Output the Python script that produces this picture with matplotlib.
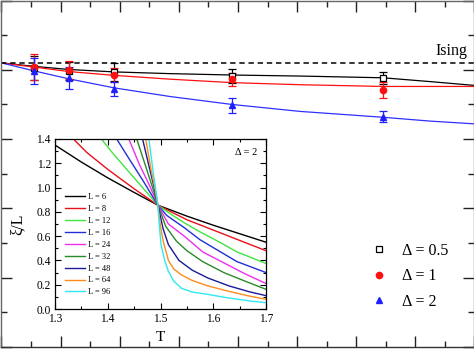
import numpy as np
import matplotlib
matplotlib.use('Agg')
import matplotlib.pyplot as plt
from matplotlib.ticker import MultipleLocator
from matplotlib.lines import Line2D

plt.rcParams['font.family'] = ['Liberation Serif', 'DejaVu Serif']
plt.rcParams['mathtext.fontset'] = 'stix'

# main panel: crossing points vs 1/L for three anisotropies
x_pts = [0.0110, 0.0227, 0.0382, 0.0779, 0.1291]
y_d05 = [0.9005, 0.8997, 0.8994, 0.8982, 0.8977]
e_d05 = [0.0035, 0.0026, 0.0026, 0.0019, 0.0017]
y_d1 = [0.9008, 0.8999, 0.8985, 0.8973, 0.8941]
e_d1 = [0.0038, 0.0026, 0.0020, 0.0019, 0.0023]
y_d2 = [0.8997, 0.8977, 0.8945, 0.8898, 0.8865]
e_d2 = [0.0038, 0.0032, 0.0021, 0.0022, 0.0017]

# fitted curves
x_fit = [0.0, 0.0110, 0.0228, 0.0381, 0.0570, 0.0780, 0.1010, 0.1291, 0.1450, 0.1600]
fit_d05 = [0.9020, 0.9010, 0.9001, 0.8994, 0.8989, 0.8985, 0.8982, 0.8977, 0.8966, 0.8955]
fit_d1 = [0.9020, 0.9008, 0.8995, 0.8984, 0.8973, 0.8963, 0.8957, 0.8952, 0.8952, 0.8952]
fit_d2 = [0.9020, 0.8997, 0.8974, 0.8948, 0.8923, 0.8900, 0.8880, 0.8863, 0.8852, 0.8844]
ising = 0.902

# inset: xi/L vs T for Delta = 2
L_sizes = [6, 8, 12, 16, 24, 32, 48, 64, 96]
L_colors = ['black', '#e8101a', '#3ee63e', '#2030d8', '#ee30ee', '#2a8a2a', '#1a1a9a', '#ff8c1a', '#30e8ee']
T_curves = [
    [1.30, 1.35, 1.40, 1.45, 1.495, 1.55, 1.60, 1.65, 1.70],
    [1.335, 1.36, 1.40, 1.45, 1.495, 1.55, 1.60, 1.65, 1.70],
    [1.388, 1.41, 1.43, 1.46, 1.495, 1.52, 1.545, 1.575, 1.61, 1.645, 1.70],
    [1.417, 1.44, 1.465, 1.495, 1.512, 1.545, 1.575, 1.61, 1.645, 1.70],
    [1.440, 1.46, 1.48, 1.495, 1.515, 1.545, 1.58, 1.62, 1.66, 1.70],
    [1.455, 1.47, 1.485, 1.495, 1.51, 1.53, 1.55, 1.58, 1.62, 1.66, 1.70],
    [1.466, 1.478, 1.488, 1.495, 1.505, 1.515, 1.535, 1.56, 1.59, 1.63, 1.67, 1.70],
    [1.472, 1.482, 1.490, 1.495, 1.500, 1.505, 1.515, 1.525, 1.54, 1.56, 1.59, 1.63, 1.67, 1.70],
    [1.478, 1.486, 1.492, 1.495, 1.498, 1.501, 1.508, 1.515, 1.525, 1.54, 1.56, 1.59, 1.63, 1.67, 1.70],
]
xi_curves = [
    [1.35, 1.21, 1.08, 0.96, 0.855, 0.765, 0.69, 0.62, 0.55],
    [1.40, 1.29, 1.15, 0.99, 0.855, 0.735, 0.65, 0.565, 0.48],
    [1.40, 1.28, 1.18, 1.03, 0.855, 0.78, 0.71, 0.635, 0.555, 0.47, 0.375],
    [1.40, 1.24, 1.07, 0.855, 0.77, 0.67, 0.57, 0.48, 0.39, 0.30],
    [1.40, 1.19, 1.01, 0.855, 0.70, 0.60, 0.47, 0.38, 0.29, 0.21],
    [1.40, 1.20, 1.00, 0.855, 0.68, 0.56, 0.48, 0.39, 0.30, 0.23, 0.162],
    [1.40, 1.18, 1.00, 0.855, 0.66, 0.53, 0.40, 0.32, 0.255, 0.19, 0.14, 0.11],
    [1.40, 1.15, 0.98, 0.855, 0.68, 0.56, 0.40, 0.33, 0.28, 0.235, 0.19, 0.145, 0.105, 0.08],
    [1.40, 1.13, 0.95, 0.855, 0.68, 0.53, 0.40, 0.31, 0.23, 0.17, 0.14, 0.12, 0.09, 0.066, 0.052],
]

fig = plt.figure(figsize=(4.74, 3.49), dpi=100)
ax = fig.add_axes([0.003, 0.0057, 0.998, 0.9928])

ax.plot(x_fit, fit_d05, color='black', lw=0.9)
ax.plot(x_fit, fit_d1, color='#ff1010', lw=0.9)
ax.plot(x_fit, fit_d2, color='#3030ff', lw=0.9)
ax.axhline(ising, color='black', lw=1.1, ls=(0, (3.5, 2.5)))
ax.text(0.1575, ising + 0.0012, 'Ising', fontsize=11.5, ha='right', va='bottom')

ax.errorbar(x_pts, y_d05, yerr=e_d05, fmt='s', mfc='white', mec='black', color='black',
            ms=5, mew=0.9, capsize=3, elinewidth=0.9, capthick=0.9)
ax.errorbar(x_pts, y_d1, yerr=e_d1, fmt='o', color='#ff1010', ms=4.5,
            capsize=3, elinewidth=0.9, capthick=0.9)
ax.errorbar(x_pts, y_d2, yerr=e_d2, fmt='^', color='#2020ff', ms=5,
            capsize=3, elinewidth=0.9, capthick=0.9)

handles = [Line2D([], [], ls='none', marker='s', mfc='white', mec='black', ms=5, mew=0.9),
           Line2D([], [], ls='none', marker='o', color='#ff1010', ms=4.5),
           Line2D([], [], ls='none', marker='^', color='#2020ff', ms=5)]
ax.legend(handles, ['Δ = 0.5', 'Δ = 1', 'Δ = 2'], loc='upper left', bbox_to_anchor=(0.782, 0.30),
          frameon=False, fontsize=11.5, handlelength=1.0, handletextpad=0.95,
          labelspacing=0.58, borderpad=0, borderaxespad=0)

ax.set_xlim(0, 0.16)
ax.set_ylim(0.82, 0.92)
ax.xaxis.set_major_locator(MultipleLocator(0.02))
ax.xaxis.set_minor_locator(MultipleLocator(0.01))
ax.yaxis.set_major_locator(MultipleLocator(0.02))
ax.yaxis.set_minor_locator(MultipleLocator(0.01))
ax.tick_params(which='both', direction='in', top=True, right=True,
               labelbottom=False, labelleft=False, width=1.0, color='#222222')
ax.tick_params(which='major', length=8)
ax.tick_params(which='minor', length=4.5)
for s in ax.spines.values():
    s.set_color('#666666')
    s.set_linewidth(1.0)
ax.spines['bottom'].set_color('#333333')

# inset
ins = fig.add_axes([55 / 474, 40 / 349, 211 / 474, 170 / 349])
for L, c, T, xi in zip(L_sizes, L_colors, T_curves, xi_curves):
    ins.plot(T, xi, color=c, lw=1.0, label='L = %d' % L)
ins.set_xlim(1.3, 1.7)
ins.set_ylim(0.0, 1.4)
ins.xaxis.set_major_locator(MultipleLocator(0.1))
ins.xaxis.set_minor_locator(MultipleLocator(0.05))
ins.yaxis.set_major_locator(MultipleLocator(0.2))
ins.yaxis.set_minor_locator(MultipleLocator(0.1))
ins.tick_params(which='both', direction='in', top=True, right=True, labelsize=8.3, pad=3, width=0.8)
ins.tick_params(which='major', length=4)
ins.tick_params(which='minor', length=2.5)
for s in ins.spines.values():
    s.set_linewidth(0.9)
ins.set_xlabel('T', fontsize=11)
ins.set_ylabel('ξ/L', fontsize=11.5)
ins.xaxis.set_label_coords(0.5, -0.13)
ins.yaxis.set_label_coords(-0.14, 0.5)
ins.text(0.96, 0.92, 'Δ = 2', transform=ins.transAxes, fontsize=7.5, ha='right', va='center')
ins.legend(loc='upper left', bbox_to_anchor=(0.047, 0.682), frameon=False, fontsize=6,
           handlelength=2.4, handletextpad=0.4, labelspacing=0.47, borderpad=0, borderaxespad=0)

fig.savefig('out.png', dpi=100)
